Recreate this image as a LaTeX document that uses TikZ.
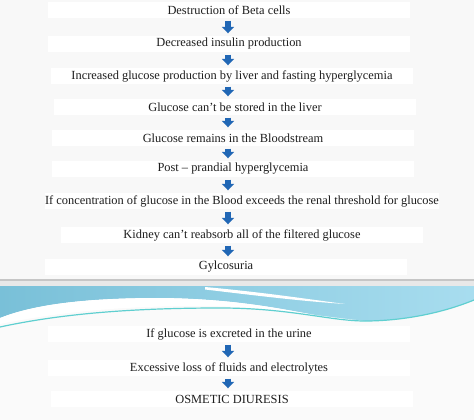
\documentclass[tikz,border=0pt]{standalone}
\usepackage{fontspec}
\setmainfont{Liberation Serif}
\usetikzlibrary{arrows.meta}
\definecolor{bgrey}{HTML}{F8F8F8}
\definecolor{txtc}{HTML}{1E1E1E}
\definecolor{arrowblue}{HTML}{2167B5}
\definecolor{waveL}{HTML}{79C0D8}
\definecolor{waveR}{HTML}{A8DDEF}
\definecolor{tealc}{HTML}{5FCFD0}
\tikzset{
  txt/.style={fill=white, text=txtc, minimum width=362pt, minimum height=16pt, inner sep=0pt,
              font=\fontsize{12.4}{13}\selectfont},
  flow/.style={draw=arrowblue, line width=5.5pt, shorten <=2.5pt, shorten >=2.5pt,
               -{Triangle[width=12pt,length=6.5pt]}},
}
\begin{document}
\begin{tikzpicture}[x=1pt,y=-1pt]
\useasboundingbox (0,0) rectangle (474,420);
% backgrounds
\fill[bgrey] (0,0) rectangle (474,279);
\fill[bgrey!70!white] (0,286) rectangle (474,420);
% separator and wave
\fill[gray!45] (0,279) rectangle (474,281);
\fill[gray!18] (0,281) rectangle (474,286);
\shade[left color=waveL, right color=waveR]
  (0,286) -- (474,286) -- (474,300)
  .. controls (440,314) and (400,321) .. (365,321)
  .. controls (320,321) and (270,299) .. (160,298)
  .. controls (100,298) and (40,302) .. (0,318) -- cycle;
\fill[white] (0,318) .. controls (40,302) and (100,298) .. (160,298)
  .. controls (270,299) and (320,321) .. (365,321)
  .. controls (300,314) and (260,306) .. (200,306)
  .. controls (120,306) and (60,312) .. (0,324) -- cycle;
\draw[tealc, line width=1.2pt] (0,327) .. controls (60,314) and (130,308) .. (220,308)
  .. controls (290,308) and (330,321) .. (365,321)
  .. controls (400,321) and (440,314) .. (474,300);
\fill[white] (205,287) .. controls (260,292) and (300,298) .. (345,304)
  .. controls (300,301) and (260,296) .. (205,289.5) -- cycle;
% nodes
\coordinate (ax) at (228,0);
\node[txt] (n1) at (229,10) {Destruction of Beta cells};
\node[txt] (n2) at (229,44) {Decreased insulin production};
\node[txt] (n3) at (232,76) {Increased glucose production by liver and fasting hyperglycemia};
\node[txt] (n4) at (235,107) {Glucose can’t be stored in the liver};
\node[txt] (n5) at (233,138) {Glucose remains in the Bloodstream};
\node[txt] (n6) at (233,169) {Post – prandial hyperglycemia};
\node[txt] (n7) at (242,201) {If concentration of glucose in the Blood exceeds the renal threshold for glucose};
\node[txt] (n8) at (242,235) {Kidney can’t reabsorb all of the filtered glucose};
\node[txt] (n9) at (226,267) {Gylcosuria};
\node[txt] (m1) at (229,334) {If glucose is excreted in the urine};
\node[txt] (m2) at (229,368) {Excessive loss of fluids and electrolytes};
\node[txt] (m3) at (232,399) {OSMETIC DIURESIS};
% arrows
\foreach \a/\b in {n1/n2,n2/n3,n3/n4,n4/n5,n5/n6,n6/n7,n7/n8,n8/n9,m1/m2,m2/m3}
  \draw[flow] (\a.south -| ax) -- (\b.north -| ax);
\end{tikzpicture}
\end{document}
